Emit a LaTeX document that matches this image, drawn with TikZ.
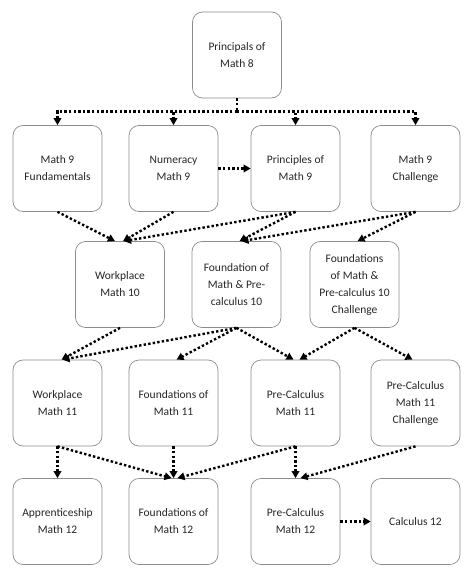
\documentclass[tikz,border=0pt]{standalone}
\usepackage{fontspec}
\setmainfont{Carlito}
\usetikzlibrary{arrows.meta}
\begin{document}
\begin{tikzpicture}[x=1pt,y=-1pt,
 box/.style={draw=black!45, line width=0.7pt, rounded corners=10pt, minimum width=89pt, minimum height=86pt, align=center, font=\fontsize{11.5}{17}\selectfont, text=black!85, inner sep=2pt},
 link/.style={line width=2.4pt, dash pattern=on 2.4pt off 2.2pt, -{Triangle[length=7pt,width=7.5pt]}},
 plain/.style={line width=2.4pt, dash pattern=on 2.4pt off 2.2pt}]
\useasboundingbox (0,0) rectangle (474,578);
% nodes
\node[box] (top) at (237,55) {Principals of\\Math 8};
\node[box] (f9) at (57.5,168.5) {Math 9\\Fundamentals};
\node[box] (n9) at (173.5,168.5) {Numeracy\\Math 9};
\node[box] (p9) at (295.5,168.5) {Principles of\\Math 9};
\node[box] (c9) at (415.5,168.5) {Math 9\\Challenge};
\node[box] (w10) at (120,284.5) {Workplace\\Math 10};
\node[box] (f10) at (236.5,284.5) {Foundation of\\Math \& Pre-\\calculus 10};
\node[box] (fc10) at (354.5,284.5) {Foundations\\of Math \&\\Pre-calculus 10\\Challenge};
\node[box] (w11) at (57.5,403) {Workplace\\Math 11};
\node[box] (f11) at (173.5,403) {Foundations of\\Math 11};
\node[box] (pc11) at (295.5,403) {Pre-Calculus\\Math 11};
\node[box] (pcc11) at (415.5,403) {Pre-Calculus\\Math 11\\Challenge};
\node[box] (a12) at (57.5,521.5) {Apprenticeship\\Math 12};
\node[box] (f12) at (173.5,521.5) {Foundations of\\Math 12};
\node[box] (pc12) at (295.5,521.5) {Pre-Calculus\\Math 12};
\node[box] (calc12) at (415.5,521.5) {Calculus 12};
% top tree
\coordinate (hub) at ([yshift=-13pt]top.south);
\draw[plain] (top.south) -- (hub);
\draw[link] (hub) -| (f9.north);
\draw[link] (hub) -| (n9.north);
\draw[link] (hub) -| (p9.north);
\draw[link] (hub) -| (c9.north);
\draw[link] (n9.east) -- (p9.west);
% row1 -> row2
\draw[link] (f9.south) -- ([xshift=-5pt]w10.north);
\draw[link] (n9.south) -- ([xshift=3pt]w10.north);
\draw[link] (p9.south) -- ([xshift=4pt]w10.north);
\draw[link] (p9.south) -- ([xshift=3pt]f10.north);
\draw[link] (c9.south) -- ([xshift=5pt]f10.north);
\draw[link] (c9.south) -- ([xshift=3pt]fc10.north);
% row2 -> row3
\draw[link] (w10.south) -- ([xshift=4pt]w11.north);
\draw[link] (f10.south) -- ([xshift=5pt]w11.north);
\draw[link] (f10.south) -- ([xshift=3pt]f11.north);
\draw[link] (f10.south) -- ([xshift=-2pt]pc11.north);
\draw[link] (fc10.south) -- ([xshift=4pt]pc11.north);
\draw[link] (fc10.south) -- ([xshift=-3pt]pcc11.north);
% row3 -> row4
\draw[link] (w11.south) -- (a12.north);
\draw[link] (w11.south) -- ([xshift=-2pt]f12.north);
\draw[link] (f11.south) -- (f12.north);
\draw[link] (pc11.south) -- ([xshift=4pt]f12.north);
\draw[link] (pc11.south) -- (pc12.north);
\draw[link] (pcc11.south) -- ([xshift=5pt]pc12.north);
\draw[link] (pc12.east) -- (calc12.west);
\end{tikzpicture}
\end{document}
